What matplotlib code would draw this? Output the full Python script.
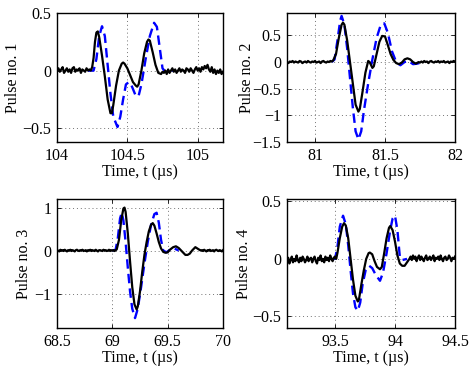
import matplotlib
matplotlib.use("Agg")
import matplotlib.pyplot as plt

plt.rcParams['font.family'] = ['Liberation Serif', 'DejaVu Serif']
plt.rcParams['axes.unicode_minus'] = True

# ---------------- Pulse 1 ----------------
p1_meas_t = [104.00, 104.01, 104.02, 104.03, 104.04, 104.05, 104.06, 104.07, 104.08, 104.09, 104.10, 104.11,
             104.12, 104.13, 104.14, 104.15, 104.16, 104.17, 104.18, 104.19, 104.20, 104.21, 104.22, 104.23, 104.24,
             104.25, 104.26, 104.27, 104.28, 104.29, 104.30, 104.32, 104.34, 104.36, 104.38, 104.39, 104.40, 104.42,
             104.44, 104.46, 104.47, 104.48, 104.50, 104.52, 104.54, 104.56, 104.57, 104.58, 104.60, 104.62, 104.64,
             104.65, 104.66, 104.68, 104.70, 104.72, 104.74, 104.75,
             104.76, 104.77, 104.78, 104.79, 104.80, 104.81, 104.82, 104.83, 104.84, 104.85, 104.86, 104.87, 104.88,
             104.89, 104.90, 104.91, 104.92, 104.93, 104.94, 104.95, 104.96, 104.97, 104.98, 104.99, 105.00, 105.01,
             105.02, 105.03, 105.04, 105.05, 105.06, 105.07, 105.08, 105.09, 105.10, 105.11, 105.12, 105.13, 105.14,
             105.15, 105.16, 105.17, 105.18]
p1_meas_v = [0.00, 0.02, -0.01, 0.01, 0.03, -0.02, 0.00, 0.02, -0.01, 0.01, -0.02, 0.02,
             0.03, -0.01, 0.01, 0.00, 0.02, -0.02, 0.01, 0.00, -0.01, 0.02, 0.00, 0.01, 0.00,
             0.03, 0.11, 0.25, 0.33, 0.34, 0.29, 0.13, -0.05, -0.25, -0.37, -0.37, -0.30, -0.13,
             0.00, 0.06, 0.07, 0.06, 0.02, -0.04, -0.10, -0.13, -0.14, -0.12, 0.00, 0.15, 0.25,
             0.27, 0.26, 0.16, 0.05, -0.02, -0.03, -0.01,
             -0.02, 0.00, -0.03, 0.01, -0.02, 0.00, 0.02, -0.01, 0.01, -0.02, 0.00, 0.02, -0.01,
             0.01, 0.00, -0.02, 0.02, 0.01, -0.01, 0.02, 0.00, -0.02, 0.01, 0.03, 0.00, 0.02,
             -0.01, 0.03, 0.01, 0.04, 0.02, 0.05, 0.01, -0.01, 0.03, -0.02, 0.01, -0.03, 0.00,
             -0.02, 0.01, -0.03, -0.01]
p1_sim_t = [104.22, 104.26, 104.28, 104.30, 104.32, 104.34, 104.36, 104.38, 104.40, 104.43, 104.45, 104.47,
            104.49, 104.51, 104.53, 104.56, 104.58, 104.60, 104.63, 104.66, 104.69, 104.71, 104.73, 104.75,
            104.77, 104.80, 104.84]
p1_sim_v = [0.0, 0.0, 0.10, 0.30, 0.385, 0.30, 0.05, -0.20, -0.40, -0.49, -0.40, -0.25,
            -0.12, -0.10, -0.13, -0.22, -0.22, -0.12, 0.10, 0.30, 0.415, 0.38, 0.20, 0.02,
            -0.01, 0.0, 0.0]

# ---------------- Pulse 2 ----------------
p2_meas_t = [80.80, 80.81, 80.82, 80.83, 80.84, 80.85, 80.86, 80.87, 80.88, 80.89, 80.90, 80.91, 80.92, 80.93,
             80.94, 80.95, 80.96, 80.97, 80.98, 80.99, 81.00, 81.01, 81.02, 81.03, 81.04, 81.05, 81.06, 81.07,
             81.08, 81.09, 81.10, 81.11, 81.12,
             81.13, 81.15, 81.17, 81.19, 81.20, 81.21, 81.23, 81.25, 81.27, 81.29, 81.31, 81.32, 81.34, 81.36,
             81.38, 81.39, 81.41, 81.42, 81.44, 81.46, 81.48, 81.50, 81.52, 81.54, 81.56, 81.58, 81.60, 81.62,
             81.64, 81.66, 81.68, 81.70, 81.72, 81.74, 81.75,
             81.76, 81.77, 81.78, 81.79, 81.80, 81.81, 81.82, 81.83, 81.84, 81.85, 81.86, 81.87, 81.88, 81.89,
             81.90, 81.91, 81.92, 81.93, 81.94, 81.95, 81.96, 81.97, 81.98, 81.99, 82.00]
p2_meas_v = [0.00, -0.02, 0.01, 0.00, 0.02, -0.01, 0.01, 0.00, -0.01, 0.02, 0.01, -0.02, 0.00, 0.01,
             -0.01, 0.02, 0.00, -0.01, 0.01, 0.00, 0.02, -0.01, 0.00, 0.01, -0.02, 0.01, 0.02, 0.00,
             -0.01, 0.01, 0.00, 0.02, 0.01,
             0.03, 0.15, 0.45, 0.70, 0.74, 0.70, 0.40, 0.00, -0.40, -0.80, -0.93, -0.88, -0.55, -0.20,
             0.02, 0.00, -0.11, -0.08, 0.15, 0.38, 0.49, 0.48, 0.32, 0.15, 0.04, -0.02, -0.04, -0.01,
             0.05, 0.07, 0.05, 0.00, -0.03, 0.00, -0.01,
             0.01, -0.01, 0.02, 0.00, 0.01, -0.02, 0.01, 0.02, 0.00, -0.01, 0.01, 0.00, 0.02, -0.01,
             0.01, 0.00, 0.02, -0.01, 0.00, 0.01, -0.02, 0.01, 0.00, 0.02, 0.01]
p2_sim_t = [81.12, 81.14, 81.16, 81.18, 81.19, 81.21, 81.23, 81.25, 81.27, 81.29, 81.31, 81.33, 81.35,
            81.38, 81.41, 81.44, 81.47, 81.495, 81.52, 81.55, 81.58, 81.61, 81.64, 81.67, 81.70, 81.73, 81.77]
p2_sim_v = [0.0, 0.05, 0.40, 0.78, 0.865, 0.70, 0.25, -0.30, -0.85, -1.30, -1.45, -1.30, -0.90,
            -0.40, 0.05, 0.45, 0.70, 0.725, 0.55, 0.20, 0.0, -0.06, 0.0, 0.02, -0.04, -0.03, 0.0]

# ---------------- Pulse 3 ----------------
p3_meas_t = [68.50, 68.51, 68.52, 68.53, 68.54, 68.55, 68.56, 68.57, 68.58, 68.59,
             68.60, 68.61, 68.62, 68.63, 68.64, 68.65, 68.66, 68.67, 68.68, 68.69,
             68.70, 68.71, 68.72, 68.73, 68.74, 68.75, 68.76, 68.77, 68.78, 68.79,
             68.80, 68.81, 68.82, 68.83, 68.84, 68.85, 68.86, 68.87, 68.88, 68.89,
             68.90, 68.91, 68.92, 68.93, 68.94, 68.95, 68.96, 68.97, 68.98, 68.99,
             69.00, 69.01, 69.02, 69.03,
             69.04, 69.06, 69.08, 69.10, 69.11, 69.12, 69.14, 69.16, 69.18, 69.20, 69.22, 69.23, 69.25, 69.27,
             69.29, 69.31, 69.33, 69.35, 69.365, 69.38, 69.40, 69.42, 69.44, 69.46, 69.48, 69.50, 69.52, 69.55,
             69.575, 69.60, 69.63, 69.66, 69.68, 69.70, 69.72, 69.75, 69.78,
             69.80, 69.81, 69.82, 69.83, 69.84, 69.85, 69.86, 69.87, 69.88, 69.89, 69.90, 69.91, 69.92, 69.93,
             69.94, 69.95, 69.96, 69.97, 69.98, 69.99, 70.00]
p3_meas_v = [0.01, 0.00, -0.02, 0.02, 0.00, 0.01, -0.01, 0.02, 0.00, -0.02,
             0.01, 0.00, 0.02, -0.01, 0.01, 0.00, -0.02, 0.01, 0.02, 0.00,
             -0.01, 0.01, 0.00, 0.02, -0.01, 0.00, 0.01, -0.02, 0.01, 0.00,
             0.02, -0.01, 0.01, 0.00, -0.01, 0.02, 0.00, -0.02, 0.01, 0.01,
             0.00, -0.01, 0.02, 0.00, 0.01, -0.01, 0.00, 0.02, -0.01, 0.01,
             0.00, 0.01, -0.01, 0.01,
             0.03, 0.25, 0.70, 0.98, 1.00, 0.90, 0.40, -0.25, -0.85, -1.25, -1.37, -1.30, -0.95, -0.50,
             -0.10, 0.20, 0.45, 0.60, 0.64, 0.58, 0.40, 0.20, 0.05, -0.03, -0.05, -0.04, 0.02, 0.08,
             0.10, 0.06, -0.02, -0.10, -0.10, -0.07, 0.00, 0.08, 0.03,
             0.00, 0.01, -0.01, 0.02, 0.00, -0.02, 0.01, 0.00, 0.02, -0.01, 0.00, 0.01, -0.02, 0.01,
             0.02, 0.00, -0.01, 0.01, 0.00, -0.02, 0.01]
p3_sim_t = [69.00, 69.03, 69.05, 69.07, 69.085, 69.10, 69.12, 69.14, 69.16, 69.18, 69.205, 69.23, 69.26,
            69.29, 69.32, 69.35, 69.38, 69.40, 69.42, 69.44, 69.46, 69.49, 69.52, 69.56, 69.60]
p3_sim_v = [0.0, 0.02, 0.30, 0.75, 0.88, 0.70, 0.20, -0.40, -0.95, -1.35, -1.57, -1.35, -0.85,
            -0.30, 0.20, 0.60, 0.85, 0.88, 0.65, 0.25, 0.0, -0.04, 0.02, 0.05, 0.0]

# ---------------- Pulse 4 ----------------
p4_meas_t = [93.10, 93.11, 93.12, 93.13, 93.14, 93.15, 93.16, 93.17, 93.18, 93.19,
             93.20, 93.21, 93.22, 93.23, 93.24, 93.25, 93.26, 93.27, 93.28, 93.29,
             93.30, 93.31, 93.32, 93.33, 93.34, 93.35, 93.36, 93.37, 93.38, 93.39,
             93.40, 93.41, 93.42, 93.43, 93.44, 93.45, 93.46, 93.47, 93.48, 93.49,
             93.50, 93.51,
             93.52, 93.54, 93.56, 93.575, 93.59, 93.61, 93.63, 93.65, 93.67, 93.69, 93.70, 93.72, 93.74, 93.76,
             93.78, 93.79, 93.81, 93.83, 93.85, 93.875, 93.89, 93.91, 93.93, 93.95, 93.96, 93.98, 94.00, 94.02,
             94.04, 94.06, 94.08, 94.10, 94.12,
             94.13, 94.14, 94.15, 94.16, 94.17, 94.18, 94.19, 94.20, 94.21, 94.22,
             94.23, 94.24, 94.25, 94.26, 94.27, 94.28, 94.29, 94.30, 94.31, 94.32,
             94.33, 94.34, 94.35, 94.36, 94.37, 94.38, 94.39, 94.40, 94.41, 94.42,
             94.43, 94.44, 94.45, 94.46, 94.47, 94.48, 94.49, 94.50]
p4_meas_v = [-0.02, 0.01, -0.04, -0.01, 0.02, -0.03, 0.00, -0.02, 0.03, -0.01,
             -0.03, 0.01, -0.02, 0.02, 0.00, -0.03, -0.01, 0.02, -0.02, 0.00,
             0.01, -0.03, 0.00, 0.02, -0.02, -0.04, 0.01, -0.01, 0.03, -0.02,
             0.00, -0.03, 0.02, -0.01, 0.01, -0.02, 0.03, 0.00, -0.02, 0.01,
             0.02, 0.00,
             0.05, 0.18, 0.28, 0.31, 0.29, 0.18, 0.00, -0.18, -0.32, -0.37, -0.35, -0.22, -0.10, 0.00,
             0.05, 0.055, 0.04, -0.02, -0.07, -0.09, -0.07, 0.05, 0.18, 0.27, 0.285, 0.25, 0.15, 0.03,
             -0.04, -0.06, -0.06, -0.03, 0.00,
             0.02, -0.01, 0.03, 0.00, 0.02, -0.02, 0.01, 0.03, -0.01, 0.02,
             0.00, -0.02, 0.01, 0.03, -0.01, 0.00, 0.02, -0.01, 0.01, 0.03,
             -0.02, 0.01, 0.00, 0.02, -0.01, 0.03, 0.00, -0.02, 0.01, 0.02,
             -0.01, 0.00, 0.03, 0.01, -0.02, 0.01, 0.00, 0.02]
p4_sim_t = [93.48, 93.50, 93.52, 93.54, 93.567, 93.59, 93.61, 93.63, 93.65, 93.67, 93.69, 93.71, 93.73,
            93.755, 93.785, 93.81, 93.84, 93.875, 93.90, 93.93, 93.96, 93.98, 94.00, 94.02, 94.04, 94.06, 94.10]
p4_sim_v = [0.0, 0.0, 0.10, 0.28, 0.375, 0.30, 0.12, -0.10, -0.30, -0.42, -0.45, -0.38, -0.22,
            -0.10, -0.06, -0.08, -0.14, -0.19, -0.12, 0.05, 0.25, 0.35, 0.375, 0.25, 0.02, -0.01, 0.0]

# ---------------- Axes settings ----------------
ylabels = ["Pulse no. 1", "Pulse no. 2", "Pulse no. 3", "Pulse no. 4"]
xlims = [(104.0, 105.18), (80.8, 82.0), (68.5, 70.0), (93.1, 94.5)]
ylims = [(-0.62, 0.5), (-1.5, 0.92), (-1.8, 1.2), (-0.6, 0.52)]
xticks = [[104, 104.5, 105], [81, 81.5, 82], [68.5, 69, 69.5, 70], [93.5, 94, 94.5]]
xticklabels = [["104", "104.5", "105"], ["81", "81.5", "82"], ["68.5", "69", "69.5", "70"], ["93.5", "94", "94.5"]]
yticks = [[-0.5, 0, 0.5], [-1.5, -1, -0.5, 0, 0.5], [-1, 0, 1], [-0.5, 0, 0.5]]
yticklabels = [["\u22120.5", "0", "0.5"], ["\u22121.5", "\u22121", "\u22120.5", "0", "0.5"],
               ["\u22121", "0", "1"], ["\u22120.5", "0", "0.5"]]

meas = [(p1_meas_t, p1_meas_v), (p2_meas_t, p2_meas_v), (p3_meas_t, p3_meas_v), (p4_meas_t, p4_meas_v)]
sims = [(p1_sim_t, p1_sim_v), (p2_sim_t, p2_sim_v), (p3_sim_t, p3_sim_v), (p4_sim_t, p4_sim_v)]

W, H = 474, 370
fig = plt.figure(figsize=(W / 100, H / 100), dpi=100)
boxes = [(57, 13, 166, 129), (287, 13, 168, 129), (57, 199, 166, 129), (287, 199, 168, 129)]
ypads = [1.3, -1.5, 2.0, 0.5]
fs = 11.5
for i in range(4):
    l, t, w, h = boxes[i]
    ax = fig.add_axes([l / W, 1 - (t + h) / H, w / W, h / H])
    ax.plot(sims[i][0], sims[i][1], color=(0, 0, 1), lw=1.7, dashes=(4, 2.2), zorder=3)
    ax.plot(meas[i][0], meas[i][1], color='black', lw=1.6, zorder=4)
    ax.set_xlim(*xlims[i])
    ax.set_ylim(*ylims[i])
    ax.set_xticks(xticks[i])
    ax.set_xticklabels(xticklabels[i], fontsize=fs)
    ax.set_yticks(yticks[i])
    ax.set_yticklabels(yticklabels[i], fontsize=fs)
    ax.tick_params(direction='in', length=3, width=0.6, pad=4, top=True, right=True)
    ax.grid(True, linestyle=(0, (1, 3)), color='0.45', lw=0.7)
    for s in ax.spines.values():
        s.set_linewidth(1.0)
    ax.set_xlabel("Time, t (\u00b5s)", fontsize=fs, labelpad=0)
    ax.set_ylabel(ylabels[i], fontsize=fs, labelpad=ypads[i])

fig.savefig("out.png", dpi=100)
